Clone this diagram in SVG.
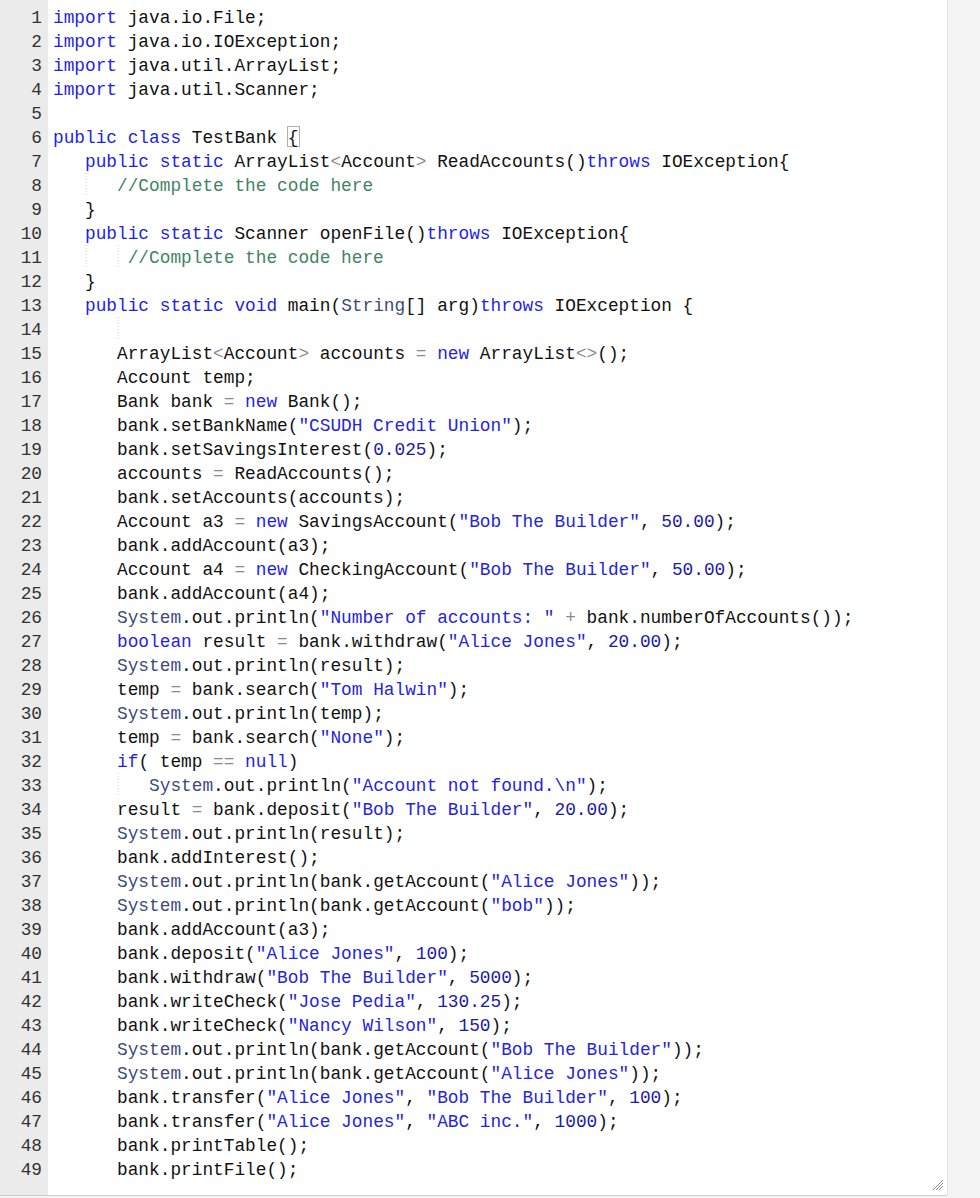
<svg xmlns="http://www.w3.org/2000/svg" width="980" height="1198" viewBox="0 0 980 1198">
<style>
text{font-family:"Liberation Mono","DejaVu Sans Mono",monospace;font-size:17.8px;fill:#111;white-space:pre}
.ln{fill:#333;text-anchor:end}
.k{fill:#1f1fe8}.s{fill:#2424e0}.n{fill:#1a1aa6}.t{fill:#3e4a7a}.c{fill:#3f8463}.o{fill:#8a8a8a}
.g{stroke:#c8c8c8;stroke-width:1;stroke-dasharray:1 2}
</style>
<rect width="980" height="1198" fill="#f4f4f4"/>
<rect x="0" y="0" width="947" height="1195" fill="#ffffff"/>
<rect x="0" y="0" width="48" height="1195" fill="#ebebeb"/>
<line x1="0" y1="1195.5" x2="947" y2="1195.5" stroke="#cfcfcf"/>
<line x1="947.5" y1="0" x2="947.5" y2="1195" stroke="#e4e4e4"/>
<g id="resize" stroke="#888" stroke-width="1"><line x1="936" y1="1190" x2="943" y2="1183"/><line x1="939" y1="1190" x2="943" y2="1186"/><line x1="933" y1="1190" x2="943" y2="1180"/></g>
<g id="guides">
<line class="g" x1="86" y1="173" x2="86" y2="197"/>
<line class="g" x1="86" y1="245" x2="86" y2="269"/>
<line class="g" x1="118" y1="245" x2="118" y2="269"/>
<line class="g" x1="118" y1="317" x2="118" y2="341"/>
<line class="g" x1="118" y1="773" x2="118" y2="797"/>
</g>
<rect id="bracket" x="287.5" y="126.5" width="12" height="20" fill="none" stroke="#b0b0b0"/>
<g id="numbers">
<text class="ln" x="42" y="23">1</text><text class="ln" x="42" y="47">2</text><text class="ln" x="42" y="71">3</text><text class="ln" x="42" y="95">4</text><text class="ln" x="42" y="119">5</text><text class="ln" x="42" y="143">6</text><text class="ln" x="42" y="167">7</text><text class="ln" x="42" y="191">8</text><text class="ln" x="42" y="215">9</text><text class="ln" x="42" y="239">10</text><text class="ln" x="42" y="263">11</text><text class="ln" x="42" y="287">12</text><text class="ln" x="42" y="311">13</text><text class="ln" x="42" y="335">14</text><text class="ln" x="42" y="359">15</text><text class="ln" x="42" y="383">16</text><text class="ln" x="42" y="407">17</text><text class="ln" x="42" y="431">18</text><text class="ln" x="42" y="455">19</text><text class="ln" x="42" y="479">20</text><text class="ln" x="42" y="503">21</text><text class="ln" x="42" y="527">22</text><text class="ln" x="42" y="551">23</text><text class="ln" x="42" y="575">24</text><text class="ln" x="42" y="599">25</text><text class="ln" x="42" y="623">26</text><text class="ln" x="42" y="647">27</text><text class="ln" x="42" y="671">28</text><text class="ln" x="42" y="695">29</text><text class="ln" x="42" y="719">30</text><text class="ln" x="42" y="743">31</text><text class="ln" x="42" y="767">32</text><text class="ln" x="42" y="791">33</text><text class="ln" x="42" y="815">34</text><text class="ln" x="42" y="839">35</text><text class="ln" x="42" y="863">36</text><text class="ln" x="42" y="887">37</text><text class="ln" x="42" y="911">38</text><text class="ln" x="42" y="935">39</text><text class="ln" x="42" y="959">40</text><text class="ln" x="42" y="983">41</text><text class="ln" x="42" y="1007">42</text><text class="ln" x="42" y="1031">43</text><text class="ln" x="42" y="1055">44</text><text class="ln" x="42" y="1079">45</text><text class="ln" x="42" y="1103">46</text><text class="ln" x="42" y="1127">47</text><text class="ln" x="42" y="1151">48</text><text class="ln" x="42" y="1175">49</text>
</g>
<g id="code" xml:space="preserve">
<text x="53" y="23"><tspan class="k">import</tspan> java.io.File;</text>
<text x="53" y="47"><tspan class="k">import</tspan> java.io.IOException;</text>
<text x="53" y="71"><tspan class="k">import</tspan> java.util.ArrayList;</text>
<text x="53" y="95"><tspan class="k">import</tspan> java.util.Scanner;</text>
<text x="53" y="143"><tspan class="k">public</tspan> <tspan class="k">class</tspan> TestBank {</text>
<text x="53" y="167">   <tspan class="k">public</tspan> <tspan class="k">static</tspan> ArrayList<tspan class="o">&lt;</tspan>Account<tspan class="o">&gt;</tspan> ReadAccounts()<tspan class="k">throws</tspan> IOException{</text>
<text x="53" y="191">      <tspan class="c">//Complete the code here</tspan></text>
<text x="53" y="215">   }</text>
<text x="53" y="239">   <tspan class="k">public</tspan> <tspan class="k">static</tspan> Scanner openFile()<tspan class="k">throws</tspan> IOException{</text>
<text x="53" y="263">       <tspan class="c">//Complete the code here</tspan></text>
<text x="53" y="287">   }</text>
<text x="53" y="311">   <tspan class="k">public</tspan> <tspan class="k">static</tspan> <tspan class="k">void</tspan> main(<tspan class="t">String</tspan>[] arg)<tspan class="k">throws</tspan> IOException {</text>
<text x="53" y="359">      ArrayList<tspan class="o">&lt;</tspan>Account<tspan class="o">&gt;</tspan> accounts <tspan class="o">=</tspan> <tspan class="k">new</tspan> ArrayList<tspan class="o">&lt;&gt;</tspan>();</text>
<text x="53" y="383">      Account temp;</text>
<text x="53" y="407">      Bank bank <tspan class="o">=</tspan> <tspan class="k">new</tspan> Bank();</text>
<text x="53" y="431">      bank.setBankName(<tspan class="s">"CSUDH Credit Union"</tspan>);</text>
<text x="53" y="455">      bank.setSavingsInterest(<tspan class="n">0.025</tspan>);</text>
<text x="53" y="479">      accounts <tspan class="o">=</tspan> ReadAccounts();</text>
<text x="53" y="503">      bank.setAccounts(accounts);</text>
<text x="53" y="527">      Account a3 <tspan class="o">=</tspan> <tspan class="k">new</tspan> SavingsAccount(<tspan class="s">"Bob The Builder"</tspan>, <tspan class="n">50.00</tspan>);</text>
<text x="53" y="551">      bank.addAccount(a3);</text>
<text x="53" y="575">      Account a4 <tspan class="o">=</tspan> <tspan class="k">new</tspan> CheckingAccount(<tspan class="s">"Bob The Builder"</tspan>, <tspan class="n">50.00</tspan>);</text>
<text x="53" y="599">      bank.addAccount(a4);</text>
<text x="53" y="623">      <tspan class="t">System</tspan>.out.println(<tspan class="s">"Number of accounts: "</tspan> <tspan class="o">+</tspan> bank.numberOfAccounts());</text>
<text x="53" y="647">      <tspan class="k">boolean</tspan> result <tspan class="o">=</tspan> bank.withdraw(<tspan class="s">"Alice Jones"</tspan>, <tspan class="n">20.00</tspan>);</text>
<text x="53" y="671">      <tspan class="t">System</tspan>.out.println(result);</text>
<text x="53" y="695">      temp <tspan class="o">=</tspan> bank.search(<tspan class="s">"Tom Halwin"</tspan>);</text>
<text x="53" y="719">      <tspan class="t">System</tspan>.out.println(temp);</text>
<text x="53" y="743">      temp <tspan class="o">=</tspan> bank.search(<tspan class="s">"None"</tspan>);</text>
<text x="53" y="767">      <tspan class="k">if</tspan>( temp <tspan class="o">==</tspan> <tspan class="k">null</tspan>)</text>
<text x="53" y="791">         <tspan class="t">System</tspan>.out.println(<tspan class="s">"Account not found.\n"</tspan>);</text>
<text x="53" y="815">      result <tspan class="o">=</tspan> bank.deposit(<tspan class="s">"Bob The Builder"</tspan>, <tspan class="n">20.00</tspan>);</text>
<text x="53" y="839">      <tspan class="t">System</tspan>.out.println(result);</text>
<text x="53" y="863">      bank.addInterest();</text>
<text x="53" y="887">      <tspan class="t">System</tspan>.out.println(bank.getAccount(<tspan class="s">"Alice Jones"</tspan>));</text>
<text x="53" y="911">      <tspan class="t">System</tspan>.out.println(bank.getAccount(<tspan class="s">"bob"</tspan>));</text>
<text x="53" y="935">      bank.addAccount(a3);</text>
<text x="53" y="959">      bank.deposit(<tspan class="s">"Alice Jones"</tspan>, <tspan class="n">100</tspan>);</text>
<text x="53" y="983">      bank.withdraw(<tspan class="s">"Bob The Builder"</tspan>, <tspan class="n">5000</tspan>);</text>
<text x="53" y="1007">      bank.writeCheck(<tspan class="s">"Jose Pedia"</tspan>, <tspan class="n">130.25</tspan>);</text>
<text x="53" y="1031">      bank.writeCheck(<tspan class="s">"Nancy Wilson"</tspan>, <tspan class="n">150</tspan>);</text>
<text x="53" y="1055">      <tspan class="t">System</tspan>.out.println(bank.getAccount(<tspan class="s">"Bob The Builder"</tspan>));</text>
<text x="53" y="1079">      <tspan class="t">System</tspan>.out.println(bank.getAccount(<tspan class="s">"Alice Jones"</tspan>));</text>
<text x="53" y="1103">      bank.transfer(<tspan class="s">"Alice Jones"</tspan>, <tspan class="s">"Bob The Builder"</tspan>, <tspan class="n">100</tspan>);</text>
<text x="53" y="1127">      bank.transfer(<tspan class="s">"Alice Jones"</tspan>, <tspan class="s">"ABC inc."</tspan>, <tspan class="n">1000</tspan>);</text>
<text x="53" y="1151">      bank.printTable();</text>
<text x="53" y="1175">      bank.printFile();</text>
</g>
</svg>
